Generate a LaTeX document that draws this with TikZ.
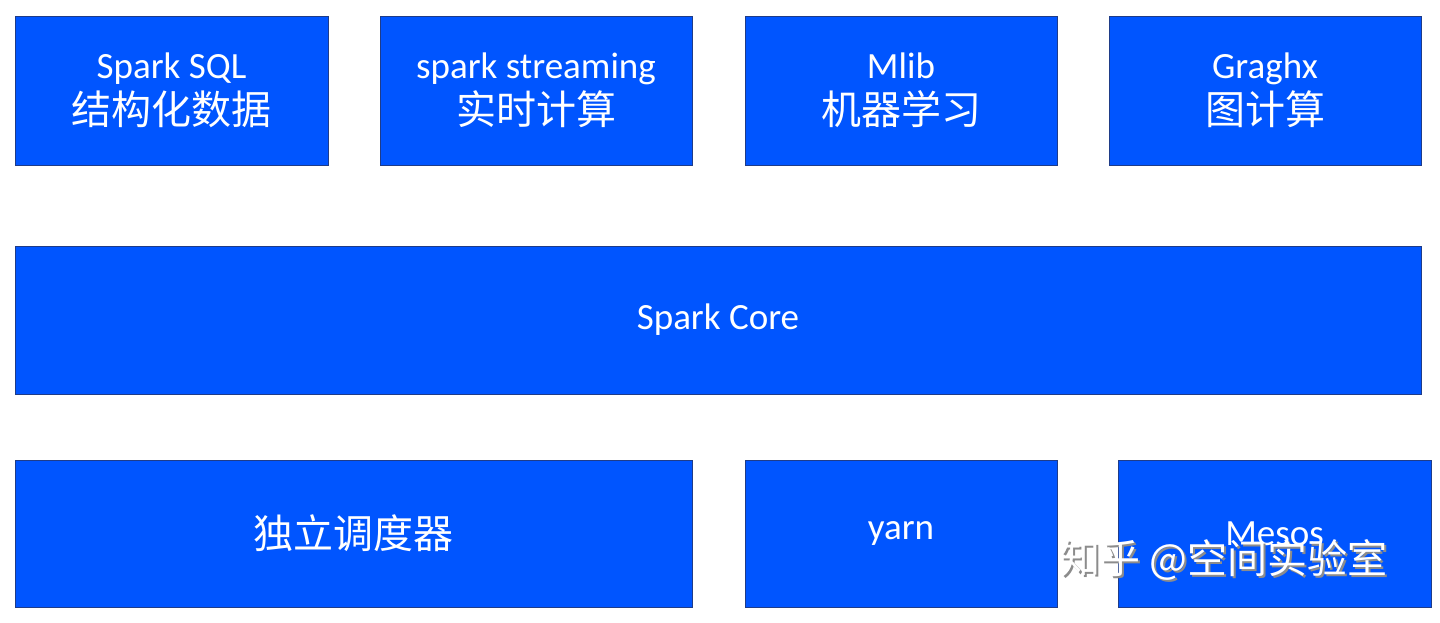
\documentclass[tikz,border=0pt]{standalone}
\usepackage{fontspec}
\setmainfont{Carlito}
\newfontfamily\cjk{Noto Sans CJK SC}
\definecolor{boxblue}{HTML}{0055FF}
\definecolor{boxedge}{HTML}{1F3C88}
\tikzset{blk/.style={draw=boxedge,line width=1pt,fill=boxblue,text=white,align=center,inner sep=0pt,font=\fontsize{37}{46}\selectfont},
wm/.style={text=white,font=\cjk\fontsize{40}{42}\selectfont,inner sep=0pt}}
\newcommand{\zh}[1]{{\cjk\fontsize{40}{46}\selectfont #1}}
\begin{document}
\begin{tikzpicture}[x=1pt,y=-1pt]
\useasboundingbox (0,0) rectangle (1440,622);
\fill[white] (0,0) rectangle (1440,622);
\node[blk,minimum width=313,minimum height=149] (sql) at (171.5,90.5) {Spark SQL\\\zh{结构化数据}};
\node[blk,minimum width=312,minimum height=149] (str) at (536,90.5) {spark streaming\\\zh{实时计算}};
\node[blk,minimum width=312,minimum height=149] (ml) at (901,90.5) {Mlib\\\zh{机器学习}};
\node[blk,minimum width=312,minimum height=149] (gx) at (1265,90.5) {Graghx\\\zh{图计算}};
\node[blk,minimum width=1406,minimum height=148] (core) at (718,320) {Spark Core};
\node[blk,minimum width=677,minimum height=147] (sa) at (353.5,533.5) {\zh{独立调度器}};
\node[blk,minimum width=312,minimum height=147] (yarn) at (901,533.5) {yarn};
\node[blk,minimum width=313,minimum height=147] (mesos) at (1274.5,533.5) {Mesos};
\node[wm,text=black!45] (wms) at (1226,562) {知乎 @空间实验室};
\node[wm] (wm) at (1224,560) {知乎 @空间实验室};
\end{tikzpicture}
\end{document}
